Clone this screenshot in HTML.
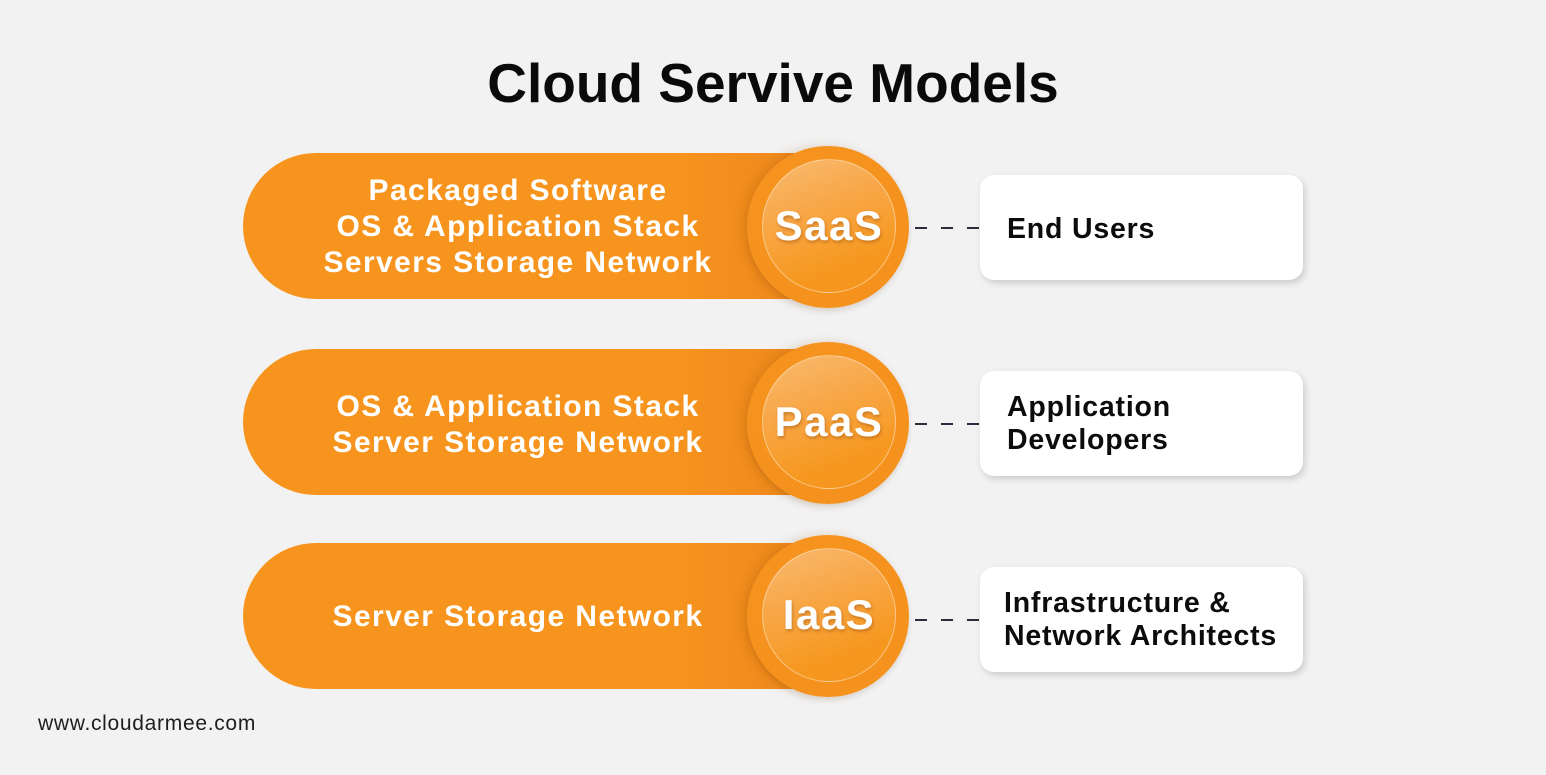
<!DOCTYPE html>
<html>
<head>
<meta charset="utf-8">
<style>
  html, body { margin:0; padding:0; }
  body { width:1546px; height:775px; background:#f2f2f2; position:relative; overflow:hidden;
         font-family:"Liberation Sans", sans-serif; }
  .title { position:absolute; left:0; width:1546px; top:56px; text-align:center; font-size:55px;
           line-height:55px; font-weight:bold; color:#0a0a0a; letter-spacing:0px; }
  .pill { position:absolute; left:243px; width:590px; height:146px; border-radius:73px 0 0 73px;
          background:linear-gradient(to right, #f7941e 0%, #f7941e 72%, #f08c1d 88%, #ea861b 100%); }
  .ptext { position:absolute; left:243px; width:550px; height:146px; display:flex; flex-direction:column;
           justify-content:center; align-items:center; color:#fff; font-weight:bold; font-size:30px;
           line-height:36px; letter-spacing:1.4px; text-align:center; }
  .outer { position:absolute; width:162px; height:162px; border-radius:50%;
           background:radial-gradient(circle at 45% 40%, #f7951f 0%, #f5921e 70%, #f39020 100%);
           box-shadow:-5px 0 10px rgba(150,70,0,0.18), 0 3px 6px rgba(0,0,0,0.08); }
  .inner { position:absolute; width:134px; height:134px; border-radius:50%; box-sizing:border-box;
           border:1px solid rgba(255,230,200,0.55);
           background:linear-gradient(160deg, #f9bb70 0%, #f8a84a 35%, #f6981f 75%, #f4931d 100%);
           display:flex; align-items:center; justify-content:center; color:#fff; font-weight:bold;
           font-size:42px; letter-spacing:1.5px; text-shadow:1px 2px 3px rgba(120,50,0,0.35); }
  .dash { position:absolute; height:2px; width:12px; background:#2b2d3c; }
  .box { position:absolute; left:980px; width:323px; height:105px; background:#fff; border-radius:14px;
         box-shadow:2px 3px 7px rgba(0,0,0,0.16); display:flex; flex-direction:column;
         justify-content:center; box-sizing:border-box; padding-left:27px; color:#0c0c0c;
         font-weight:bold; font-size:28.5px; line-height:33px; letter-spacing:0.8px; }
  .foot { position:absolute; left:38px; top:711px; font-size:21px; line-height:26px; color:#1e1e1e;
          letter-spacing:0.7px; }
</style>
</head>
<body>
  <div class="title">Cloud Servive Models</div>

  <!-- Row 1 -->
  <div class="pill" style="top:153px;"></div>
  <div class="ptext" style="top:154px;"><div>Packaged Software</div><div>OS &amp; Application Stack</div><div>Servers Storage Network</div></div>
  <div class="outer" style="left:747px; top:146px;"></div>
  <div class="inner" style="left:762px; top:159px;">SaaS</div>
  <div class="dash" style="left:915px; top:227px;"></div>
  <div class="dash" style="left:941px; top:227px;"></div>
  <div class="dash" style="left:967px; top:227px;"></div>
  <div class="box" style="top:175px;"><div style="margin-top:3px;">End Users</div></div>

  <!-- Row 2 -->
  <div class="pill" style="top:349px;"></div>
  <div class="ptext" style="top:352px;"><div>OS &amp; Application Stack</div><div>Server Storage Network</div></div>
  <div class="outer" style="left:747px; top:342px;"></div>
  <div class="inner" style="left:762px; top:355px;">PaaS</div>
  <div class="dash" style="left:915px; top:423px;"></div>
  <div class="dash" style="left:941px; top:423px;"></div>
  <div class="dash" style="left:967px; top:423px;"></div>
  <div class="box" style="top:371px;"><div>Application</div><div>Developers</div></div>

  <!-- Row 3 -->
  <div class="pill" style="top:543px;"></div>
  <div class="ptext" style="top:544px;"><div>Server Storage Network</div></div>
  <div class="outer" style="left:747px; top:535px;"></div>
  <div class="inner" style="left:762px; top:548px;">IaaS</div>
  <div class="dash" style="left:915px; top:619px;"></div>
  <div class="dash" style="left:941px; top:619px;"></div>
  <div class="dash" style="left:967px; top:619px;"></div>
  <div class="box" style="top:567px; padding-left:24px;"><div>Infrastructure &amp;</div><div>Network Architects</div></div>

  <div class="foot">www.cloudarmee.com</div>
</body>
</html>
